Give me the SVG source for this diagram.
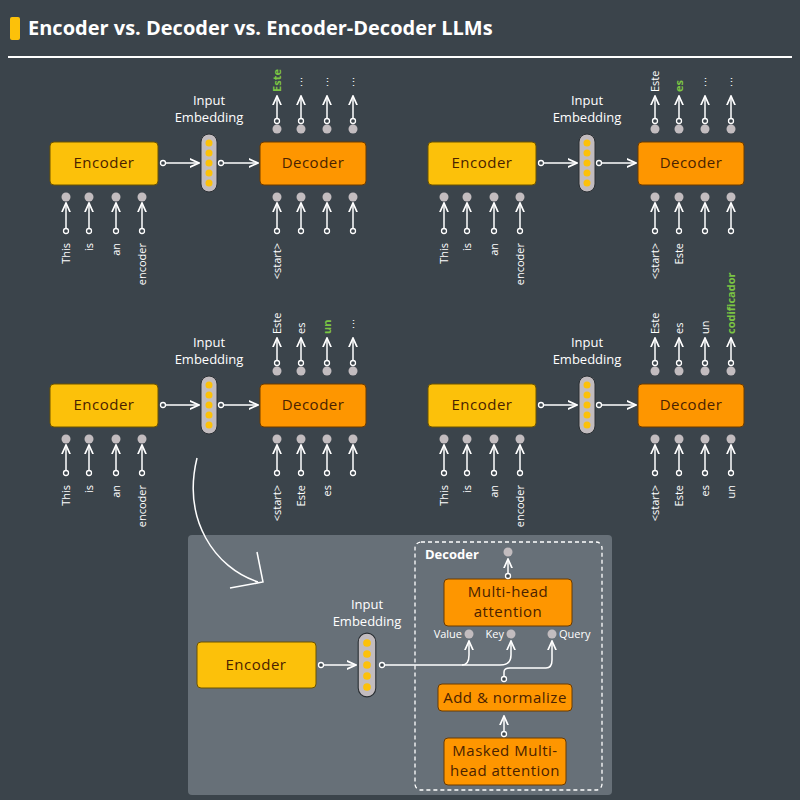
<svg xmlns="http://www.w3.org/2000/svg" width="800" height="800" viewBox="0 0 800 800">
<style>
text{font-family:"Open Sans","Liberation Sans",sans-serif}
.enc{fill:#fcc10a;stroke:#6b5200;stroke-width:1}
.dec{fill:#fe9600;stroke:#6b3a00;stroke-width:1}
.bt{fill:#4a2200;font-size:15px;text-anchor:middle;letter-spacing:0.5px}
.w{fill:#fff;font-size:13px;text-anchor:middle}
.lab{fill:#fff;font-size:11px}
.g{fill:#7bc543;font-weight:bold}
.ln{stroke:#fff;stroke-width:1.5;fill:none}
.sc{fill:#3b444b;stroke:#fff;stroke-width:1.3}
.gd{fill:#c2bcbf}
.pill{fill:#c2bcbf;stroke:#2a2f33;stroke-width:1}
.yd{fill:#fcc10a}
</style>
<defs>
<marker id="ah" viewBox="0 0 10 10" refX="9" refY="5" markerWidth="7" markerHeight="7" orient="auto"><path d="M0,1 L9,5 L0,9" fill="none" stroke="#fff" stroke-width="1.6"/></marker>
<g id="pill"><rect class="pill" x="-8" y="-29" width="16" height="58" rx="8"/><circle class="yd" cx="0" cy="-20" r="3.5"/><circle class="yd" cx="0" cy="-10" r="3.5"/><circle class="yd" cx="0" cy="0" r="3.5"/><circle class="yd" cx="0" cy="10" r="3.5"/><circle class="yd" cx="0" cy="20" r="3.5"/></g>
<g id="inp"><circle class="gd" cx="0" cy="197" r="4.5"/><line class="ln" x1="0" y1="228" x2="0" y2="203" marker-end="url(#ah)"/><circle class="sc" cx="0" cy="231" r="2.5"/></g>
<g id="out"><circle class="gd" cx="0" cy="129" r="4.5"/><line class="ln" x1="0" y1="118" x2="0" y2="96" marker-end="url(#ah)"/><circle class="sc" cx="0" cy="121" r="2.5"/></g>
<g id="panel">
<text class="w" x="209" y="105">Input</text><text class="w" x="209" y="122">Embedding</text>
<rect class="enc" x="50" y="142" width="108" height="43" rx="4"/><text class="bt" x="104" y="168">Encoder</text>
<line class="ln" x1="163" y1="163" x2="199" y2="163" marker-end="url(#ah)"/><circle class="sc" cx="163" cy="163" r="2.5"/>
<use href="#pill" x="209" y="163"/>
<line class="ln" x1="221" y1="163" x2="258" y2="163" marker-end="url(#ah)"/><circle class="sc" cx="221" cy="163" r="2.5"/>
<rect class="dec" x="260" y="142" width="106" height="43" rx="4"/><text class="bt" x="313" y="168">Decoder</text>
<use href="#inp" x="66"/><use href="#inp" x="89"/><use href="#inp" x="116"/><use href="#inp" x="142"/>
<use href="#inp" x="277"/><use href="#inp" x="301"/><use href="#inp" x="327"/><use href="#inp" x="353"/>
<use href="#out" x="277"/><use href="#out" x="301"/><use href="#out" x="327"/><use href="#out" x="353"/>
<g class="lab" text-anchor="end"><text transform="translate(70,243) rotate(-90)">This</text><text transform="translate(93,243) rotate(-90)">is</text><text transform="translate(120,243) rotate(-90)">an</text><text transform="translate(146,243) rotate(-90)">encoder</text><text transform="translate(281,243) rotate(-90)">&lt;start&gt;</text></g>
</g>
</defs>
<rect width="800" height="800" fill="#3b444b"/>
<g id="title"><rect x="10" y="17" width="10" height="23" rx="2" fill="#fcc10a"/><text x="28" y="35" fill="#fff" font-size="20" font-weight="bold">Encoder vs. Decoder vs. Encoder-Decoder LLMs</text><line x1="8" y1="57" x2="792" y2="57" stroke="#fff" stroke-width="2"/></g>

<g id="panel1"><use href="#panel"/>
<g class="lab"><text class="g" transform="translate(281,92) rotate(-90)">Este</text><text x="301" y="86" text-anchor="middle">⋮</text><text x="327" y="86" text-anchor="middle">⋮</text><text x="353" y="86" text-anchor="middle">⋮</text></g></g>

<g id="panel2" transform="translate(378,0)"><use href="#panel"/>
<g class="lab"><text transform="translate(281,92) rotate(-90)">Este</text><text class="g" transform="translate(305,92) rotate(-90)">es</text><text x="327" y="86" text-anchor="middle">⋮</text><text x="353" y="86" text-anchor="middle">⋮</text>
<text text-anchor="end" transform="translate(305,243) rotate(-90)">Este</text></g></g>

<g id="panel3" transform="translate(0,242)"><use href="#panel"/>
<g class="lab"><text transform="translate(281,92) rotate(-90)">Este</text><text transform="translate(305,92) rotate(-90)">es</text><text class="g" transform="translate(331,92) rotate(-90)">un</text><text x="353" y="86" text-anchor="middle">⋮</text>
<text text-anchor="end" transform="translate(305,243) rotate(-90)">Este</text><text text-anchor="end" transform="translate(331,243) rotate(-90)">es</text></g></g>

<g id="panel4" transform="translate(378,242)"><use href="#panel"/>
<g class="lab"><text transform="translate(281,92) rotate(-90)">Este</text><text transform="translate(305,92) rotate(-90)">es</text><text transform="translate(331,92) rotate(-90)">un</text><text class="g" transform="translate(357,92) rotate(-90)">codificador</text>
<text text-anchor="end" transform="translate(305,243) rotate(-90)">Este</text><text text-anchor="end" transform="translate(331,243) rotate(-90)">es</text><text text-anchor="end" transform="translate(357,243) rotate(-90)">un</text></g></g>

<rect x="188" y="535" width="424" height="260" rx="4" fill="#677078"/>
<g id="bigarrow"><path class="ln" d="M197 458 C 182 520, 215 568, 258 582" stroke-width="2"/><polyline class="ln" points="257,552 263,582 230,588" stroke-width="2"/></g>

<g id="decbox"><rect x="415" y="542" width="187" height="248" rx="6" fill="none" stroke="#fff" stroke-width="1.3" stroke-dasharray="4,3"/><text x="425" y="559" fill="#fff" font-size="13" font-weight="bold">Decoder</text></g>
<g id="enc5"><rect class="enc" x="197" y="642" width="119" height="46" rx="4"/><text class="bt" x="256" y="670">Encoder</text></g>
<g id="emb5"><text class="w" x="367" y="609" font-size="10">Input</text><text class="w" x="367" y="626" font-size="10">Embedding</text><use href="#pill" x="367" y="665" transform="translate(367,665) scale(1.1) translate(-367,-665)"/></g>
<g id="mha"><rect class="dec" x="444" y="579" width="128" height="47" rx="4"/><text class="bt" x="508" y="597" font-size="13.5">Multi-head</text><text class="bt" x="508" y="617" font-size="13.5">attention</text></g>
<g id="addnorm"><rect class="dec" x="438" y="684" width="134" height="27" rx="4"/><text class="bt" x="505" y="703" font-size="14">Add &amp; normalize</text></g>
<g id="masked"><rect class="dec" x="444" y="738" width="122" height="47" rx="4"/><text class="bt" x="505" y="756" font-size="14">Masked Multi-</text><text class="bt" x="505" y="776" font-size="14">head attention</text></g>
<g id="ports" class="lab"><circle class="gd" cx="469" cy="634" r="4.5"/><circle class="gd" cx="511" cy="634" r="4.5"/><circle class="gd" cx="552" cy="634" r="4.5"/><circle class="gd" cx="508" cy="552" r="4.5"/>
<text x="462" y="638" text-anchor="end">Value</text><text x="504" y="638" text-anchor="end">Key</text><text x="559" y="638">Query</text></g>
<g id="connectors">
<line class="ln" x1="321" y1="665" x2="356" y2="665" marker-end="url(#ah)"/><circle class="sc" cx="321" cy="665" r="2.5"/>
<path class="ln" d="M382 665 H 462 Q 469 665 469 655 V 641" marker-end="url(#ah)"/>
<path class="ln" d="M462 665 H 500 Q 511 665 511 655 V 641" marker-end="url(#ah)"/>
<circle class="sc" cx="382" cy="665" r="2.5"/>
<path class="ln" d="M504 679 V 672 Q 504 668 510 668 H 546 Q 552 668 552 660 V 641" marker-end="url(#ah)"/><circle class="sc" cx="504" cy="679" r="2.5"/>
<line class="ln" x1="504" y1="731" x2="504" y2="716" marker-end="url(#ah)"/><circle class="sc" cx="504" cy="734" r="2.5"/>
<line class="ln" x1="508" y1="574" x2="508" y2="559" marker-end="url(#ah)"/><circle class="sc" cx="508" cy="576" r="2.5"/>
</g>
</svg>
